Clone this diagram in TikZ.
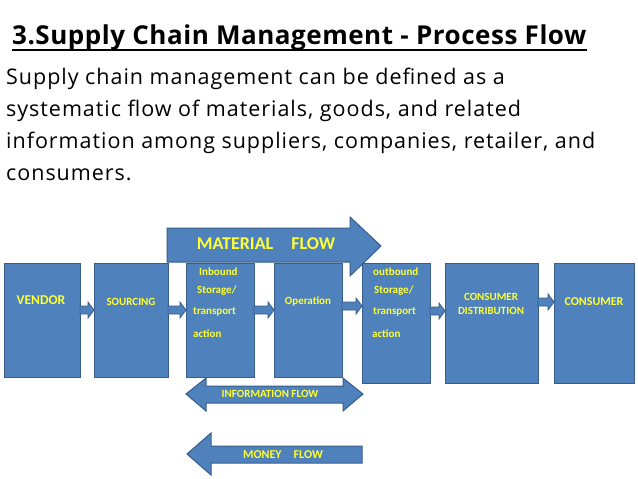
\documentclass[tikz,border=0pt]{standalone}
\usepackage{fontspec}
\setmainfont{Open Sans}
\newfontfamily\boxfont{Carlito}
\usetikzlibrary{shapes.arrows}
\definecolor{bfill}{HTML}{4F81BD}
\definecolor{bline}{HTML}{385D8A}
\definecolor{ytext}{HTML}{FFFF33}
\begin{document}
\begin{tikzpicture}[x=1pt,y=-1pt,
  blk/.style={draw=bline,fill=bfill,line width=1pt},
  lbl/.style={text=ytext,font=\boxfont\bfseries\fontsize{11}{12}\selectfont,inner sep=0pt},
  txt/.style={anchor=base west,inner sep=0pt,font=\addfontfeature{LetterSpace=4.5}\fontsize{21.5}{24}\selectfont},
  conn/.style={draw=bline,fill=bfill,line width=0.8pt}]
\useasboundingbox (0,0) rectangle (638,479);
\node[anchor=base west,inner sep=0pt,font=\bfseries\addfontfeature{LetterSpace=2}\fontsize{26}{30}\selectfont] (title) at (12,45) {3.Supply Chain Management - Process Flow};
\draw[line width=1.5pt] (12,50) -- (title.east |- 0,50);
\node[txt] (l1) at (6,84) {Supply chain management can be defined as a};
\node[txt] (l2) at (6,116) {systematic flow of materials, goods, and related};
\node[txt] (l3) at (6,148) {information among suppliers, companies, retailer, and};
\node[txt] (l4) at (6,180) {consumers.};
% material flow
\draw[blk] (167,228) -- (350,228) -- (350,217) -- (381,246) -- (350,276) -- (350,262) -- (167,262) -- cycle;
\node[lbl,font=\boxfont\bfseries\fontsize{18}{20}\selectfont] (mf) at (266,244) {MATERIAL\quad FLOW};
% boxes
\draw[blk] (4,263) rectangle (80,377);
\draw[blk] (94,263) rectangle (168,377);
\draw[blk] (186,263) rectangle (254,377);
\draw[blk] (274,263) rectangle (342,377);
\draw[blk] (362,263) rectangle (430,383);
\draw[blk] (445,263) rectangle (538,383);
\draw[blk] (554,263) rectangle (634,383);
\node[lbl,font=\boxfont\bfseries\fontsize{13.5}{14}\selectfont] (v) at (41,300) {VENDOR};
\node[lbl] (s) at (131,302) {SOURCING};
\node[lbl,anchor=west] (i1) at (199,272) {Inbound};
\node[lbl,anchor=west] (i2) at (197,291) {Storage/};
\node[lbl,anchor=west] (i3) at (193,312) {transport};
\node[lbl,anchor=west] (i4) at (193,334) {action};
\node[lbl] (op) at (308,301) {Operation};
\node[lbl,anchor=west] (o1) at (373,272) {outbound};
\node[lbl,anchor=west] (o2) at (374,291) {Storage/};
\node[lbl,anchor=west] (o3) at (373,312) {transport};
\node[lbl,anchor=west] (o4) at (372,334) {action};
\node[lbl,align=center,font=\boxfont\bfseries\fontsize{11}{14}\selectfont] (cd) at (491,304) {CONSUMER\\DISTRIBUTION};
\node[lbl,font=\boxfont\bfseries\fontsize{12}{14}\selectfont] (c) at (594,302) {CONSUMER};
% connectors
\foreach \xa/\xb/\yy in {80/94/310, 168/186/310, 254/274/310, 342/362/306, 430/445/311, 538/554/302}{
  \draw[conn] (\xa,\yy-4) -- (\xb-6,\yy-4) -- (\xb-6,\yy-8) -- (\xb,\yy) -- (\xb-6,\yy+8) -- (\xb-6,\yy+4) -- (\xa,\yy+4) -- cycle;
}
% information flow
\draw[blk] (186,394) -- (206,378) -- (206,386) -- (343,386) -- (343,378) -- (363,394) -- (343,411) -- (343,403) -- (206,403) -- (206,411) -- cycle;
\node[lbl,font=\boxfont\bfseries\fontsize{11}{12}\selectfont] (if) at (270,394) {INFORMATION FLOW};
% money flow
\draw[blk] (187,454) -- (211,433) -- (211,446) -- (362,446) -- (362,463) -- (211,463) -- (211,475) -- cycle;
\node[lbl,font=\boxfont\bfseries\fontsize{12}{13}\selectfont] (mo) at (283,455) {MONEY\quad FLOW};
\end{tikzpicture}
\end{document}
